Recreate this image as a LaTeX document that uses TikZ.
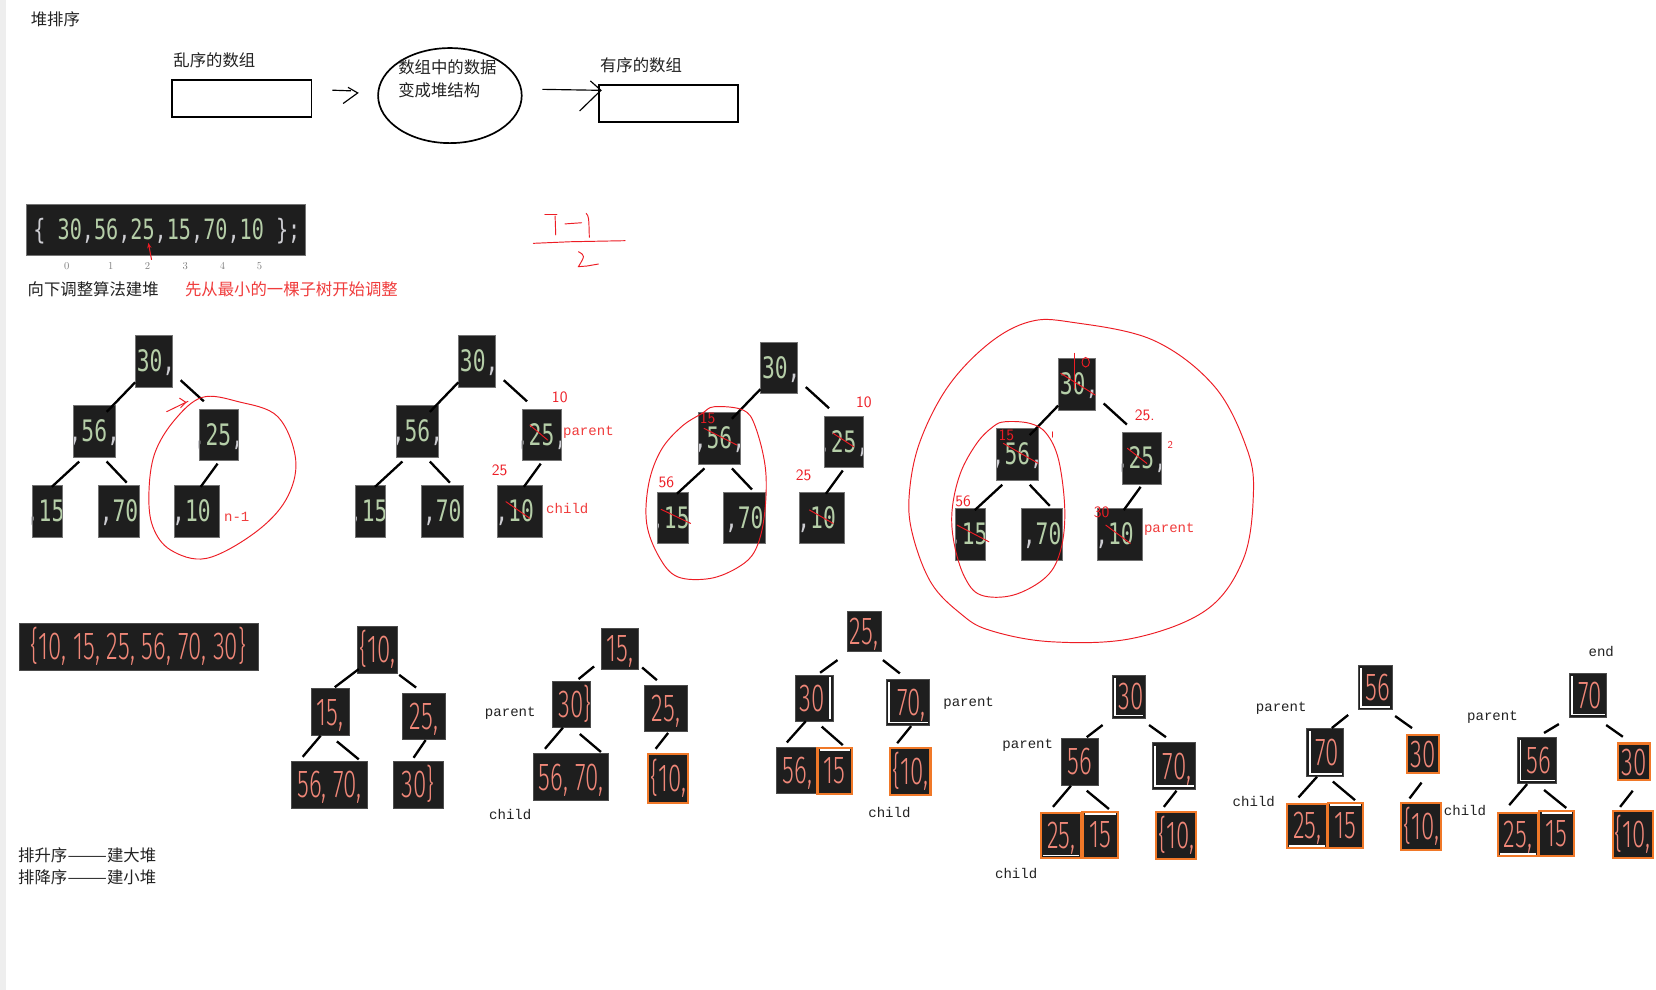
\documentclass[tikz,border=0pt]{standalone}
\usepackage{fontspec}
\usetikzlibrary{arrows.meta,calc,shapes.geometric}
\newfontfamily\cjk{Noto Sans CJK SC}
\newfontfamily\codefont[FakeStretch=0.72]{DejaVu Sans Mono}
\IfFontExistsTF{Fira Sans Light}{\newfontfamily\pinkfont[FakeStretch=0.62]{Fira Sans Light}}{\newfontfamily\pinkfont[FakeStretch=0.62]{Fira Sans}}
\newfontfamily\lblfont{Liberation Mono}
\definecolor{codebg}{RGB}{30,30,30}
\definecolor{cgreen}{RGB}{181,206,168}
\definecolor{cgrey}{RGB}{205,205,210}
\definecolor{pinktxt}{RGB}{240,135,120}
\definecolor{orng}{RGB}{240,120,40}
\definecolor{hred}{RGB}{237,28,36}
\definecolor{lred}{RGB}{240,60,60}
\definecolor{txt}{RGB}{34,34,34}
\definecolor{strip}{RGB}{238,238,238}
\newcommand\cG[1]{\textcolor{cgreen}{#1}}
\newcommand\cW[1]{\textcolor{cgrey}{#1}}
\tikzset{
 cbox/.style={fill=codebg, draw=black!55, line width=0.5pt, inner sep=0pt, anchor=north west},
 pbox/.style={fill=codebg, draw=black!70, line width=0.5pt, inner sep=0pt, anchor=north west},
 obox/.style={fill=codebg, draw=orng, line width=2pt, inner sep=0pt, anchor=north west},
 edge/.style={line width=2.2pt},
 cjkt/.style={font=\cjk\fontsize{15.5}{17}\selectfont, text=txt, inner sep=0pt, anchor=west},
 lbl/.style={font=\lblfont\fontsize{13.3}{15}\selectfont, text=txt, inner sep=0pt, anchor=west},
 rlbl/.style={lbl, text=lred},
 hnum/.style={font=\sffamily\fontsize{15}{15}\selectfont, text=hred, inner sep=0pt},
 stroke/.style={draw=hred, line width=0.9pt, line cap=round},
 circ/.style={draw=hred, line width=0.9pt},
}
% green code box: name,x,y,w,h,xshift,content
\newcommand\gbx[7]{\node[cbox, minimum width=#4pt, minimum height=#5pt,
 path picture={\node[anchor=base, inner sep=0pt, font=\codefont\fontsize{28}{30}\selectfont]
 at ([xshift=#6pt,yshift=-10pt]path picture bounding box.center) {#7};}] (#1) at ({#2},{#3}) {};}
% pink box: style,name,x,y,w,h,xshift,content
\newcommand\pbx[8]{\node[#1, minimum width=#5pt, minimum height=#6pt,
 path picture={\node[anchor=base, inner sep=0pt, text=pinktxt, font=\pinkfont\fontsize{37}{40}\selectfont]
 at ([xshift=#7pt,yshift=-12.5pt]path picture bounding box.center) {#8};}] (#2) at (#3,#4) {};}
\newcommand\wframe[1]{\draw[white, line width=1.8pt] ([shift={(3,3)}]#1.north west) -- ([shift={(3,-3)}]#1.south west) -- ([shift={(-2,-3)}]#1.south east);}
\newcommand\wtop[1]{\draw[white, line width=1.5pt] ([shift={(3,3)}]#1.north west) -- ([shift={(-3,3)}]#1.north east);}
\newcommand\wbot[1]{\draw[white, line width=1.5pt] ([shift={(3,-3)}]#1.south west) -- ([shift={(-3,-3)}]#1.south east);}
\newcommand\wright[1]{\draw[white, line width=1.5pt] ([shift={(-3,2)}]#1.north east) -- ([shift={(-3,-2)}]#1.south east);}
% row-1 tree: x,y,prefix
\newcommand\treeA[3]{%
 \gbx{#3r}{#1}{#2}{35}{49}{2}{\cG{30}\cW{,}}
 \gbx{#3a}{#1-59}{#2+66.5}{40}{49}{0}{\cW{,}\cG{56}\cW{,}}
 \gbx{#3b}{#1+60}{#2+70}{37}{49}{0}{\cW{,}\cG{25}\cW{,}}
 \gbx{#3c}{#1-98}{#2+142}{29}{49}{-2}{\cW{,}\cG{15}}
 \gbx{#3d}{#1-35}{#2+142}{39}{49}{0}{\cW{,}\cG{70}}
 \gbx{#3e}{#1+37}{#2+142}{42}{49}{-5}{\cW{,}\cG{10}}
 \draw[edge] ([shift={(0,45)}]#3r.north west) -- ([shift={(32,6.5)}]#3a.north west);
 \draw[edge] ([shift={(43,43)}]#3r.north west) -- ([shift={(5,-7)}]#3b.north west);
 \draw[edge] ([shift={(6,53.5)}]#3a.north west) -- ([shift={(19,2)}]#3c.north west);
 \draw[edge] ([shift={(32,53.5)}]#3a.north west) -- ([shift={(27,-2)}]#3d.north west);
 \draw[edge] ([shift={(18,52)}]#3b.north west) -- ([shift={(25,2)}]#3e.north west);
}
\begin{document}
\begin{tikzpicture}[x=1pt,y=-1pt]
\useasboundingbox (0,0) rectangle (1568,937);
\fill[white] (0,0) rectangle (1568,937);
\fill[strip] (0,0) rectangle (6,937);

% ---------- top flow ----------
\node[cjkt] (title) at (29,18) {堆排序};
\node[cjkt] (lsrc) at (164,57) {乱序的数组};
\node[draw, line width=1.8pt, minimum width=132pt, minimum height=35pt, anchor=north west, inner sep=0pt] (src) at (162,75) {};
\node[draw, ellipse, line width=1.6pt, minimum width=136pt, minimum height=90pt, inner sep=0pt] (heap) at (426,90.5) {};
\node[cjkt] (h1) at (377,64) {数组中的数据};
\node[cjkt] (h2) at (377,85) {变成堆结构};
\node[cjkt] (ldst) at (568,62) {有序的数组};
\node[draw, line width=1.8pt, minimum width=132pt, minimum height=35pt, anchor=north west, inner sep=0pt] (dst) at (566,80) {};
\draw[line width=1.1pt] ([shift={(19,-8)}]src.east) -- ([shift={(-25,-4.5)}]heap.west);
\draw[line width=1.1pt] ([shift={(-27.7,-7.8)}]heap.west) -- ([shift={(-18.5,-2.5)}]heap.west) -- ([shift={(-32.3,7.5)}]heap.west);
\draw[line width=1.1pt] ([shift={(18.8,-5.9)}]heap.east) -- ([shift={(1.3,-12.9)}]dst.west);
\draw[line width=1.1pt] ([shift={(-7,-21.8)}]dst.west) -- ([shift={(3,-12.9)}]dst.west) -- ([shift={(-17.2,6.7)}]dst.west);

% ---------- code array ----------
\node[cbox, minimum width=264pt, minimum height=48pt] (arr) at (25,193) {};
\node[anchor=base, inner sep=0pt, font=\codefont\fontsize{26.5}{28}\selectfont] (arrtxt) at (158,226.5)
 {\cW{\{\ }\cG{30}\cW{,}\cG{56}\cW{,}\cG{25}\cW{,}\cG{15}\cW{,}\cG{70}\cW{,}\cG{10}\cW{\ \};}};
\draw[hred, line width=1pt, -{Stealth[length=5pt,width=4pt]}] (143.5,246) -- (140.5,230);
\foreach \i/\xx in {0/63.3,1/104.8,2/139.7,3/175.4,4/210.7,5/245.7}
 \node[font=\rmfamily\fontsize{10}{10}\selectfont, text=gray, inner sep=0pt] (idx\i) at (\xx,252) {\i};
\node[cjkt] (desc) at (26,274) {向下调整算法建堆};
\node[cjkt, text=lred] (desc2) at (175,274) {先从最小的一棵子树开始调整};
% i-1 / 2 handwriting
\draw[stroke] (516,202.7) -- (527.2,202.7);
\draw[stroke] (525.6,204.5) -- (526.2,222.5);
\draw[stroke] (535,212) -- (550.8,210.9);
\draw[stroke] (555,202) .. controls (557.5,205) .. (558,224.7);
\draw[stroke] (505,230.4) -- (539.8,228.9) -- (591.9,227.9);
\draw[stroke] (547.7,238.3) .. controls (554,242) .. (547.7,252.5) -- (555.6,251.9) -- (566.6,250);

% ---------- row 1 trees ----------
\treeA{128}{317}{ta}
\treeA{434}{317}{tb}
\treeA{720}{323.5}{tc}
\treeA{1002}{339}{td}

% tree 1 annotations
\node[rlbl] (n1) at (212,489) {n-1};
\draw[circ] plot[smooth cycle, tension=0.6] coordinates {(191.6,376.2) (225.5,380.3) (263,394.5) (280,435.6) (270.6,473.5) (240.5,505) (195.4,528.7) (161.6,520.8) (144.7,498.7) (141,467) (146.5,429.3) (165.3,397.7)};
\draw[stroke] (157.8,389.8) -- (178,380);
\draw[stroke] (170,377) -- (176,381) -- (171,386);

% tree 2 annotations
\node[rlbl] (p2) at (533,409) {parent};
\node[rlbl] (c2) at (517,481) {child};
\node[hnum] at (530,376) {10};
\node[hnum] at (473,445) {25};
\draw[stroke] (501.7,402.5) -- (518.6,416.7);
\draw[stroke] (479,475) -- (501.7,490.8);

% tree 3 annotations
\node[hnum] at (818,381) {10};
\node[hnum] at (761,450) {25};
\node[hnum] at (670,396) {15};
\node[hnum] at (631,457) {56};
\draw[stroke] (666.7,405.6) -- (697.7,421.4);
\draw[stroke] (788.9,410.3) -- (808.3,423);
\draw[stroke] (626,482.3) -- (653.9,495.6);
\draw[stroke] (766.4,482.9) -- (788.9,495.6);
\draw[circ] plot[smooth cycle, tension=0.6] coordinates {(676.4,385.1) (703.6,388.3) (715.2,404) (724.9,445) (723.6,489.3) (715.2,520.8) (699.7,536.6) (672.5,547.7) (641.5,546.1) (624,527.2) (612.3,495.6) (614.3,457.7) (626,426.1) (645.3,404) (664.8,391.4)};

% tree 4 annotations
\node[rlbl] (p4) at (1083,501) {parent};
\draw[stroke] (1017.4,334.6) -- (1017.4,367.7);
\draw[stroke] (1028,343) ellipse (3.5 and 4.5);
\node[hnum] at (1084,393) {25.};
\node[hnum, font=\sffamily\fontsize{10}{10}\selectfont] at (1108,421) {2};
\node[hnum] at (953,412) {15};
\node[hnum] at (912,475) {56};
\node[hnum] at (1043,485) {30};
\draw[stroke] (997,409) -- (997,414);
\draw[stroke] (1004.4,353.5) -- (1037,374);
\draw[stroke] (1067.5,424.5) -- (1085.9,438.8);
\draw[stroke] (950,419.8) -- (983,438.7);
\draw[stroke] (906.2,497.2) -- (936.4,513);
\draw[stroke] (1047,497.2) -- (1070.3,514.5);
\draw[circ] plot[smooth cycle, tension=0.6] coordinates {(951.9,399.3) (975.2,400.9) (990.7,410.4) (1002.4,435.6) (1008.2,483) (1004.3,520.8) (990.7,546.1) (959.7,563.4) (928.7,563.4) (913.2,546.1) (903.4,514.5) (901.5,483) (909.3,448.2) (924.8,419.8) (940.3,404)};
\draw[circ] plot[smooth cycle, tension=0.6] coordinates {(975,304.6) (1014,305) (1091.7,322) (1150,366) (1181,426) (1186.7,470) (1177,530) (1142,577.7) (1072,604.5) (994.6,607.6) (936.5,596.6) (909.3,580.8) (882,552.4) (864.6,508.2) (860.8,470.2) (870.5,419.8) (897.6,366) (936.5,325.1)};

% ---------- bottom row ----------
\node[pbox, minimum width=226pt, minimum height=44pt] (arr2) at (18,590) {};
\node[anchor=base, inner sep=0pt, text=pinktxt, font=\pinkfont\fontsize{37}{40}\selectfont] (arr2txt) at (131,624.5) {\{10, 15, 25, 56, 70, 30\}};

% B1
\pbx{pbox}{b1r}{337.6}{593}{38.4}{44}{0}{\{10,}
\pbx{pbox}{b1a}{294}{651.5}{36.5}{44.5}{0}{15,}
\pbx{pbox}{b1b}{381}{656}{40.5}{44}{0}{25,}
\pbx{pbox}{b1c}{276}{720.6}{71.5}{44.4}{0}{56, 70,}
\pbx{pbox}{b1d}{372}{720.6}{47}{44.4}{0}{30\}}
\draw[edge] ([shift={(2.1,40.5)}]b1r.north west) -- ([shift={(23,-0.8)}]b1a.north west);
\draw[edge] ([shift={(40.4,46)}]b1r.north west) -- ([shift={(13,-5)}]b1b.north west);
\draw[edge] ([shift={(9.6,45.1)}]b1a.north west) -- ([shift={(10.6,-4)}]b1c.north west);
\draw[edge] ([shift={(25,50.5)}]b1a.north west) -- ([shift={(63.7,-1.6)}]b1c.north west);
\draw[edge] ([shift={(22,44.8)}]b1b.north west) -- ([shift={(19.6,-3.1)}]b1d.north west);

% B2
\pbx{pbox}{b2r}{569}{595}{35}{38}{0}{15,}
\pbx{pbox}{b2a}{523}{645}{36}{43}{3}{30\}}
\pbx{pbox}{b2b}{610}{649}{40.6}{43}{0}{25,}
\pbx{pbox}{b2c}{505}{713}{71}{44.6}{0}{56, 70,}
\pbx{obox}{b2d}{612.7}{713}{38}{46}{0}{\{10,}
\draw[edge] ([shift={(-6.5,36)}]b2r.north west) -- ([shift={(24.8,-2)}]b2a.north west);
\draw[edge] ([shift={(39,37)}]b2r.north west) -- ([shift={(12,-5)}]b2b.north west);
\draw[edge] ([shift={(10,44)}]b2a.north west) -- ([shift={(11,-4)}]b2c.north west);
\draw[edge] ([shift={(26,50)}]b2a.north west) -- ([shift={(64,-1)}]b2c.north west);
\draw[edge] ([shift={(22.6,45)}]b2b.north west) -- ([shift={(8.1,-4)}]b2d.north west);
\node[lbl] (b2p) at (459,675) {parent};
\node[lbl] (b2ch) at (463,771) {child};

% B3
\pbx{pbox}{b3r}{801.8}{578.6}{32.2}{37.4}{0}{25,}
\pbx{pbox}{b3a}{752.8}{639}{35.7}{43.5}{-2}{30}
\wright{b3a}
\pbx{pbox}{b3b}{839}{643}{41}{43.6}{3}{70,}
\wframe{b3b}
\pbx{pbox}{b3c}{734.8}{707}{40.2}{43.6}{0}{56,}
\pbx{obox}{b3c2}{773}{707}{32.6}{43.6}{0}{15}
\wtop{b3c2}
\pbx{obox}{b3d}{842}{707.5}{38}{44.5}{0}{\{10,}
\draw[edge] ([shift={(-8.8,46.4)}]b3r.north west) -- ([shift={(23.7,-2)}]b3a.north west);
\draw[edge] ([shift={(34.2,46.4)}]b3r.north west) -- ([shift={(13,-5.4)}]b3b.north west);
\draw[edge] ([shift={(10.2,43.8)}]b3a.north west) -- ([shift={(10.2,-4)}]b3c.north west);
\draw[edge] ([shift={(25.2,49)}]b3a.north west) -- ([shift={(25,-1.5)}]b3c2.north west);
\draw[edge] ([shift={(23.7,44.5)}]b3b.north west) -- ([shift={(7.5,-3.8)}]b3d.north west);
\node[lbl] (b3p) at (893,666) {parent};
\node[lbl] (b3ch) at (822,769) {child};

% B4
\pbx{pbox}{b4r}{1053}{639}{31}{41}{2}{30}
\wframe{b4r}
\pbx{pbox}{b4a}{1004.7}{699}{35.3}{44}{0}{56}
\pbx{pbox}{b4b}{1090.6}{703}{41}{44}{3}{70,}
\wframe{b4b}
\pbx{obox}{b4c}{985}{768.6}{37.7}{42.4}{0}{25,}
\wbot{b4c}
\pbx{obox}{b4c2}{1024}{767.7}{33.5}{43.3}{0}{15}
\wtop{b4c2}
\pbx{obox}{b4d}{1093.7}{767.7}{38}{44.8}{0}{\{10,}
\draw[edge] ([shift={(-9,47.5)}]b4r.north west) -- ([shift={(24.3,-1)}]b4a.north west);
\draw[edge] ([shift={(35,47.5)}]b4r.north west) -- ([shift={(13.4,-5)}]b4b.north west);
\draw[edge] ([shift={(9.3,45)}]b4a.north west) -- ([shift={(12,-4.6)}]b4c.north west);
\draw[edge] ([shift={(24.3,49.7)}]b4a.north west) -- ([shift={(26,-1.7)}]b4c2.north west);
\draw[edge] ([shift={(23.4,45.7)}]b4b.north west) -- ([shift={(8.3,-3.7)}]b4d.north west);
\node[lbl] (b4p) at (949,706) {parent};
\node[lbl] (b4ch) at (942,827) {child};

% B5
\pbx{pbox}{b5r}{1286}{629.7}{32}{42}{2}{56}
\wframe{b5r}
\pbx{pbox}{b5a}{1237}{689.6}{35}{45.4}{2}{70}
\wframe{b5a}
\pbx{obox}{b5b}{1331.4}{695}{30.5}{35.7}{0}{30}
\pbx{obox}{b5c}{1217.8}{760}{38}{41.8}{0}{25,}
\wbot{b5c}
\pbx{obox}{b5c2}{1256}{759}{33.5}{42.8}{0}{15}
\wtop{b5c2}
\pbx{obox}{b5d}{1325.8}{759}{37.8}{45}{0}{\{10,}
\draw[edge] ([shift={(-9.5,47.3)}]b5r.north west) -- ([shift={(24,-0.2)}]b5a.north west);
\draw[edge] ([shift={(35,48.3)}]b5r.north west) -- ([shift={(5.6,-5.6)}]b5b.north west);
\draw[edge] ([shift={(10,45.9)}]b5a.north west) -- ([shift={(11.7,-5)}]b5c.north west);
\draw[edge] ([shift={(25,50.4)}]b5a.north west) -- ([shift={(27,-1.4)}]b5c2.north west);
\draw[edge] ([shift={(14.6,46)}]b5b.north west) -- ([shift={(8.8,-3)}]b5d.north west);
\node[lbl] (b5p) at (1189,671) {parent};
\node[lbl] (b5ch) at (1167,759) {child};

% B6
\pbx{pbox}{b6r}{1485.8}{637}{35}{42}{2}{70}
\wframe{b6r}
\pbx{pbox}{b6a}{1436.7}{698}{36.8}{43.5}{2}{56}
\wframe{b6a}
\pbx{obox}{b6b}{1531}{703}{30.6}{34.8}{0}{30}
\pbx{obox}{b6c}{1417.6}{768.6}{37.4}{41.1}{0}{25,}
\wbot{b6c}
\pbx{obox}{b6c2}{1456.6}{767}{32.4}{42.7}{0}{15}
\wtop{b6c2}
\pbx{obox}{b6d}{1526}{767}{38}{44.6}{0}{\{10,}
\draw[edge] ([shift={(-9.8,48.6)}]b6r.north west) -- ([shift={(25.3,-4)}]b6a.north west);
\draw[edge] ([shift={(35,49.5)}]b6r.north west) -- ([shift={(5.6,-5.4)}]b6b.north west);
\draw[edge] ([shift={(9.3,44.4)}]b6a.north west) -- ([shift={(11.4,-6.3)}]b6c.north west);
\draw[edge] ([shift={(25.3,50)}]b6a.north west) -- ([shift={(26.4,-2)}]b6c2.north west);
\draw[edge] ([shift={(15,45.7)}]b6b.north west) -- ([shift={(8,-3)}]b6d.north west);
\node[lbl] (b6e) at (1504,617) {end};
\node[lbl] (b6p) at (1389,679) {parent};
\node[lbl] (b6ch) at (1367,767) {child};

% bottom-left notes
\node[cjkt] (asc) at (17,810) {排升序\scalebox{1.45}[1]{——}建大堆};
\node[cjkt] (desc3) at (17,831) {排降序\scalebox{1.45}[1]{——}建小堆};
\end{tikzpicture}
\end{document}
